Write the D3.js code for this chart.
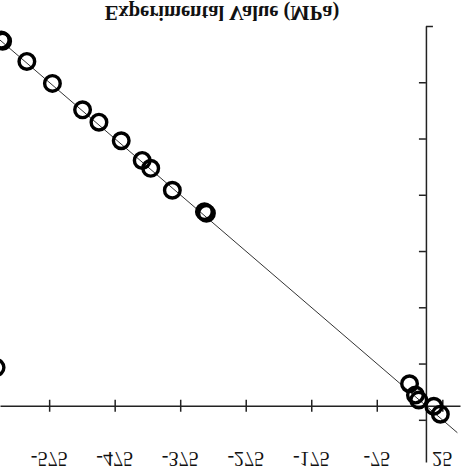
<!DOCTYPE html>
<html>
<head>
<meta charset="utf-8">
<script src="https://cdn.jsdelivr.net/npm/d3@7"></script>
<style>
  html, body { margin: 0; padding: 0; background: #fff; }
  svg { display: block; }
</style>
</head>
<body>
<script>
// Data (experimental vs predicted, MPa)
const experimental = [-648, -646, -609, -570, -524, -499, -465, -433, -420, -387, -338, -335, -25, -16, -11, 12, 22, -656];
const predicted    = [-650, -648, -612, -573, -526, -504, -471, -436, -422, -383, -345, -342, -39, -19, -10, 1, 15, -68];
const xTicks = [-575, -475, -375, -275, -175, -75, 25];
const yTicks = [-675, -575, -475, -375, -275, -175, -75, 25];
const xDomain = [-650, 52];
const yDomain = [-675, 100];
const refLine = [-662, 48];
const xTitle = "Experimental Value (MPa)";

const W = 474, H = 474;
const svg = d3.select("body").append("svg").attr("width", W).attr("height", H)
  .style("background", "#fff");

const x = d3.scaleLinear().domain(xDomain).range([0, 460]);
const y = d3.scaleLinear().domain(yDomain).range([26, 462]);

const serif = "'Liberation Serif', 'Times New Roman', serif";

// reference y = x line
svg.append("path")
  .datum(refLine)
  .attr("d", d3.line().x(d => x(d)).y(d => y(d)))
  .attr("stroke", "#333").attr("stroke-width", 1).attr("fill", "none");

// X axis
const gx = svg.append("g").attr("transform", `translate(0,${y(0)})`)
  .call(d3.axisBottom(x).tickValues(xTicks).tickSize(6).tickSizeOuter(0).tickFormat(""));
gx.selectAll(".tick line").attr("y1", -6).attr("y2", 6);
gx.selectAll("path, line").attr("stroke", "#222").attr("stroke-width", 1.5);

// Y axis
const gy = svg.append("g").attr("transform", `translate(${x(0)},0)`)
  .call(d3.axisLeft(y).tickValues(yTicks).tickSize(7).tickSizeOuter(0).tickFormat(""));
gy.selectAll(".tick").filter(d => d === yTicks[0]).select("line").attr("x2", 7);
gy.selectAll("path, line").attr("stroke", "#222").attr("stroke-width", 1.5);

// X tick labels (vertically flipped, as in reference)
svg.append("g").selectAll("text").data(xTicks).join("text")
  .attr("transform", d => `translate(${x(d)},451.5) scale(1,-1)`)
  .attr("text-anchor", "middle")
  .attr("font-family", serif).attr("font-size", 20)
  .attr("fill", "#111")
  .text(d => d);

// X axis title (flipped)
svg.append("text")
  .attr("transform", `translate(222,6) scale(1,-1)`)
  .attr("text-anchor", "middle")
  .attr("font-family", serif).attr("font-size", 20.5).attr("font-weight", "bold")
  .attr("fill", "#111")
  .text(xTitle);

// Points
svg.append("g").selectAll("circle").data(experimental.map((e, i) => [e, predicted[i]])).join("circle")
  .attr("cx", d => x(d[0])).attr("cy", d => y(d[1]))
  .attr("r", 7.8)
  .attr("fill", "none").attr("stroke", "#000").attr("stroke-width", 3.4);
</script>
</body>
</html>
